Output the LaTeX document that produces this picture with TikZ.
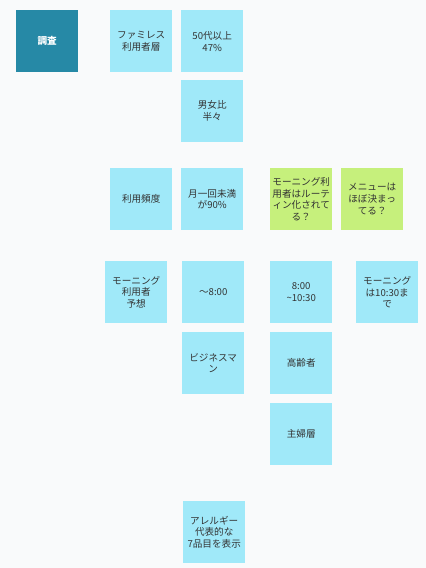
\documentclass[tikz,border=0pt]{standalone}
\usepackage{fontspec}
\setmainfont{Noto Sans CJK JP}
\definecolor{bg}{HTML}{F9FAFB}
\definecolor{teal}{HTML}{2689A6}
\definecolor{cyanbox}{HTML}{A0E9F9}
\definecolor{greenbox}{HTML}{C6F07C}
\definecolor{txt}{HTML}{333333}
\begin{document}
\begin{tikzpicture}[x=1pt,y=-1pt,
  note/.style={minimum width=62pt,minimum height=62pt,inner sep=0pt,align=center,
    font=\fontsize{9.6}{11.8}\selectfont,text=txt,fill=cyanbox,anchor=north west,text width=62pt},
  greennote/.style={note,fill=greenbox},
  headnote/.style={note,fill=teal,text=white,font=\fontsize{9.6}{11.8}\selectfont\bfseries}]
\fill[bg] (0,0) rectangle (426,568);
\useasboundingbox (0,0) rectangle (426,568);
\node[headnote] (chosa) at (16,10) {調査};
\node[note] (famires) at (110,10) {ファミレス\\利用者層};
\node[note] (age) at (181,10) {50代以上\\47\%};
\node[note] (sex) at (181,80) {男女比\\半々};
\node[note] (freq) at (110,168) {利用頻度};
\node[note] (month) at (181,168) {月一回未満\\が90\%};
\node[greennote] (routine) at (270,168) {モーニング利\\用者はルーテ\\ィン化されて\\る？};
\node[greennote] (menu) at (341,168) {メニューは\\ほぼ決まっ\\てる？};
\node[note] (yoso) at (105,261) {モーニング\\利用者\\予想};
\node[note] (early) at (182,261) {〜8:00};
\node[note] (mid) at (270,261) {8:00\\\textasciitilde 10:30};
\node[note] (until) at (356,261) {モーニング\\は10:30ま\\で};
\node[note] (biz) at (182,332) {ビジネスマ\\ン};
\node[note] (elder) at (270,332) {高齢者};
\node[note] (house) at (270,403) {主婦層};
\node[note] (allergy) at (183,501) {アレルギー\\代表的な\\7品目を表示};
\end{tikzpicture}
\end{document}
